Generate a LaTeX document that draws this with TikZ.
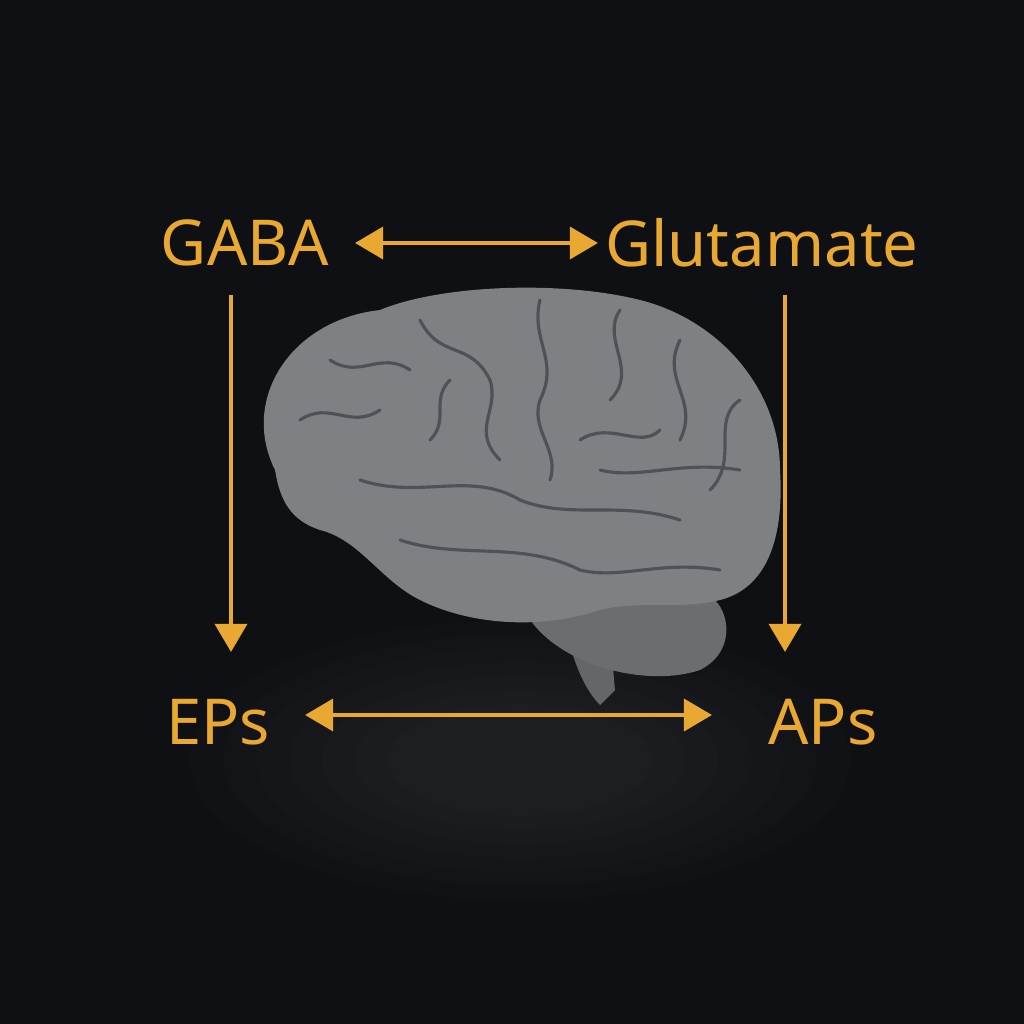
\documentclass[tikz,border=0pt]{standalone}
\usepackage{fontspec}
\setmainfont{Noto Sans}
\usetikzlibrary{arrows.meta,calc}
\definecolor{bg}{HTML}{0E1014}
\definecolor{gold}{HTML}{E8A832}
\definecolor{brain}{HTML}{7D8184}
\definecolor{fold}{HTML}{4E5256}
\tikzset{
  lbl/.style={text=gold,font=\fontsize{18}{21}\selectfont,inner sep=2pt},
  conn/.style={draw=gold,line width=1.4pt,-{Triangle[length=8pt,width=9pt]}},
  conn2/.style={draw=gold,line width=1.4pt,{Triangle[length=8pt,width=9pt]}-{Triangle[length=8pt,width=9pt]}},
  gyr/.style={draw=fold,line width=0.9pt,line cap=round}
}
\begin{document}
\begin{tikzpicture}[x=0.01cm,y=-0.01cm]
\fill[bg] (0,0) rectangle (1024,1024);
\useasboundingbox (0,0) rectangle (1024,1024);
% fog
\foreach \s in {1.0,0.9,0.8,0.7,0.6,0.5,0.4}
  \fill[brain,opacity=0.025] (520,760) ellipse ({330*\s} and {140*\s});
% brainstem and cerebellum
\fill[brain!80!black] (560,600) .. controls (570,660) and (585,690) .. (600,705) -- (615,690) .. controls (612,660) and (610,630) .. (620,600) -- cycle;
\fill[brain!85!black] (520,600) .. controls (540,660) and (640,690) .. (700,670) .. controls (740,650) and (730,600) .. (700,590) -- cycle;
% cerebrum
\fill[brain] (275,470) .. controls (240,400) and (290,320) .. (380,310)
  .. controls (440,285) and (560,280) .. (640,300)
  .. controls (720,320) and (780,390) .. (780,470)
  .. controls (785,550) and (760,590) .. (720,600)
  .. controls (680,610) and (640,600) .. (600,610)
  .. controls (540,630) and (470,625) .. (420,600)
  .. controls (380,580) and (360,540) .. (320,530)
  .. controls (290,520) and (280,500) .. (275,470) -- cycle;
% gyri
\draw[gyr] (300,420) .. controls (330,400) and (350,430) .. (380,410);
\draw[gyr] (330,360) .. controls (360,380) and (380,350) .. (410,370);
\draw[gyr] (420,320) .. controls (440,360) and (470,340) .. (490,380) .. controls (500,410) and (470,430) .. (500,460);
\draw[gyr] (540,300) .. controls (530,340) and (560,360) .. (540,400) .. controls (530,430) and (560,450) .. (550,480);
\draw[gyr] (620,310) .. controls (600,340) and (640,370) .. (610,400);
\draw[gyr] (680,340) .. controls (660,380) and (700,400) .. (680,440);
\draw[gyr] (740,400) .. controls (710,420) and (740,460) .. (710,490);
\draw[gyr] (360,480) .. controls (420,500) and (470,470) .. (520,500) .. controls (570,520) and (620,500) .. (680,520);
\draw[gyr] (400,540) .. controls (460,560) and (520,540) .. (580,570) .. controls (620,580) and (660,560) .. (720,570);
\draw[gyr] (430,440) .. controls (450,420) and (430,400) .. (450,380);
\draw[gyr] (580,440) .. controls (610,420) and (640,450) .. (660,430);
\draw[gyr] (600,470) .. controls (640,480) and (680,460) .. (740,470);
% labels
\node[lbl] (gaba) at (245,243) {GABA};
\node[lbl] (glu) at (762,243) {Glutamate};
\node[lbl] (eps) at (218,722) {EPs};
\node[lbl] (aps) at (823,722) {APs};
\coordinate (gabaS) at (231,295); \coordinate (gabaE) at (231,652);
\coordinate (gluS) at (785,295); \coordinate (gluE) at (785,652);
\coordinate (epsR) at (305,715); \coordinate (apsL) at (712,715);
\coordinate (gabaR) at (355,243); \coordinate (gluL) at (598,243);
\draw[conn2] (gabaR) -- (gluL);
\draw[conn] (gabaS) -- (gabaE);
\draw[conn] (gluS) -- (gluE);
\draw[conn2] (epsR) -- (apsL);
\end{tikzpicture}
\end{document}
